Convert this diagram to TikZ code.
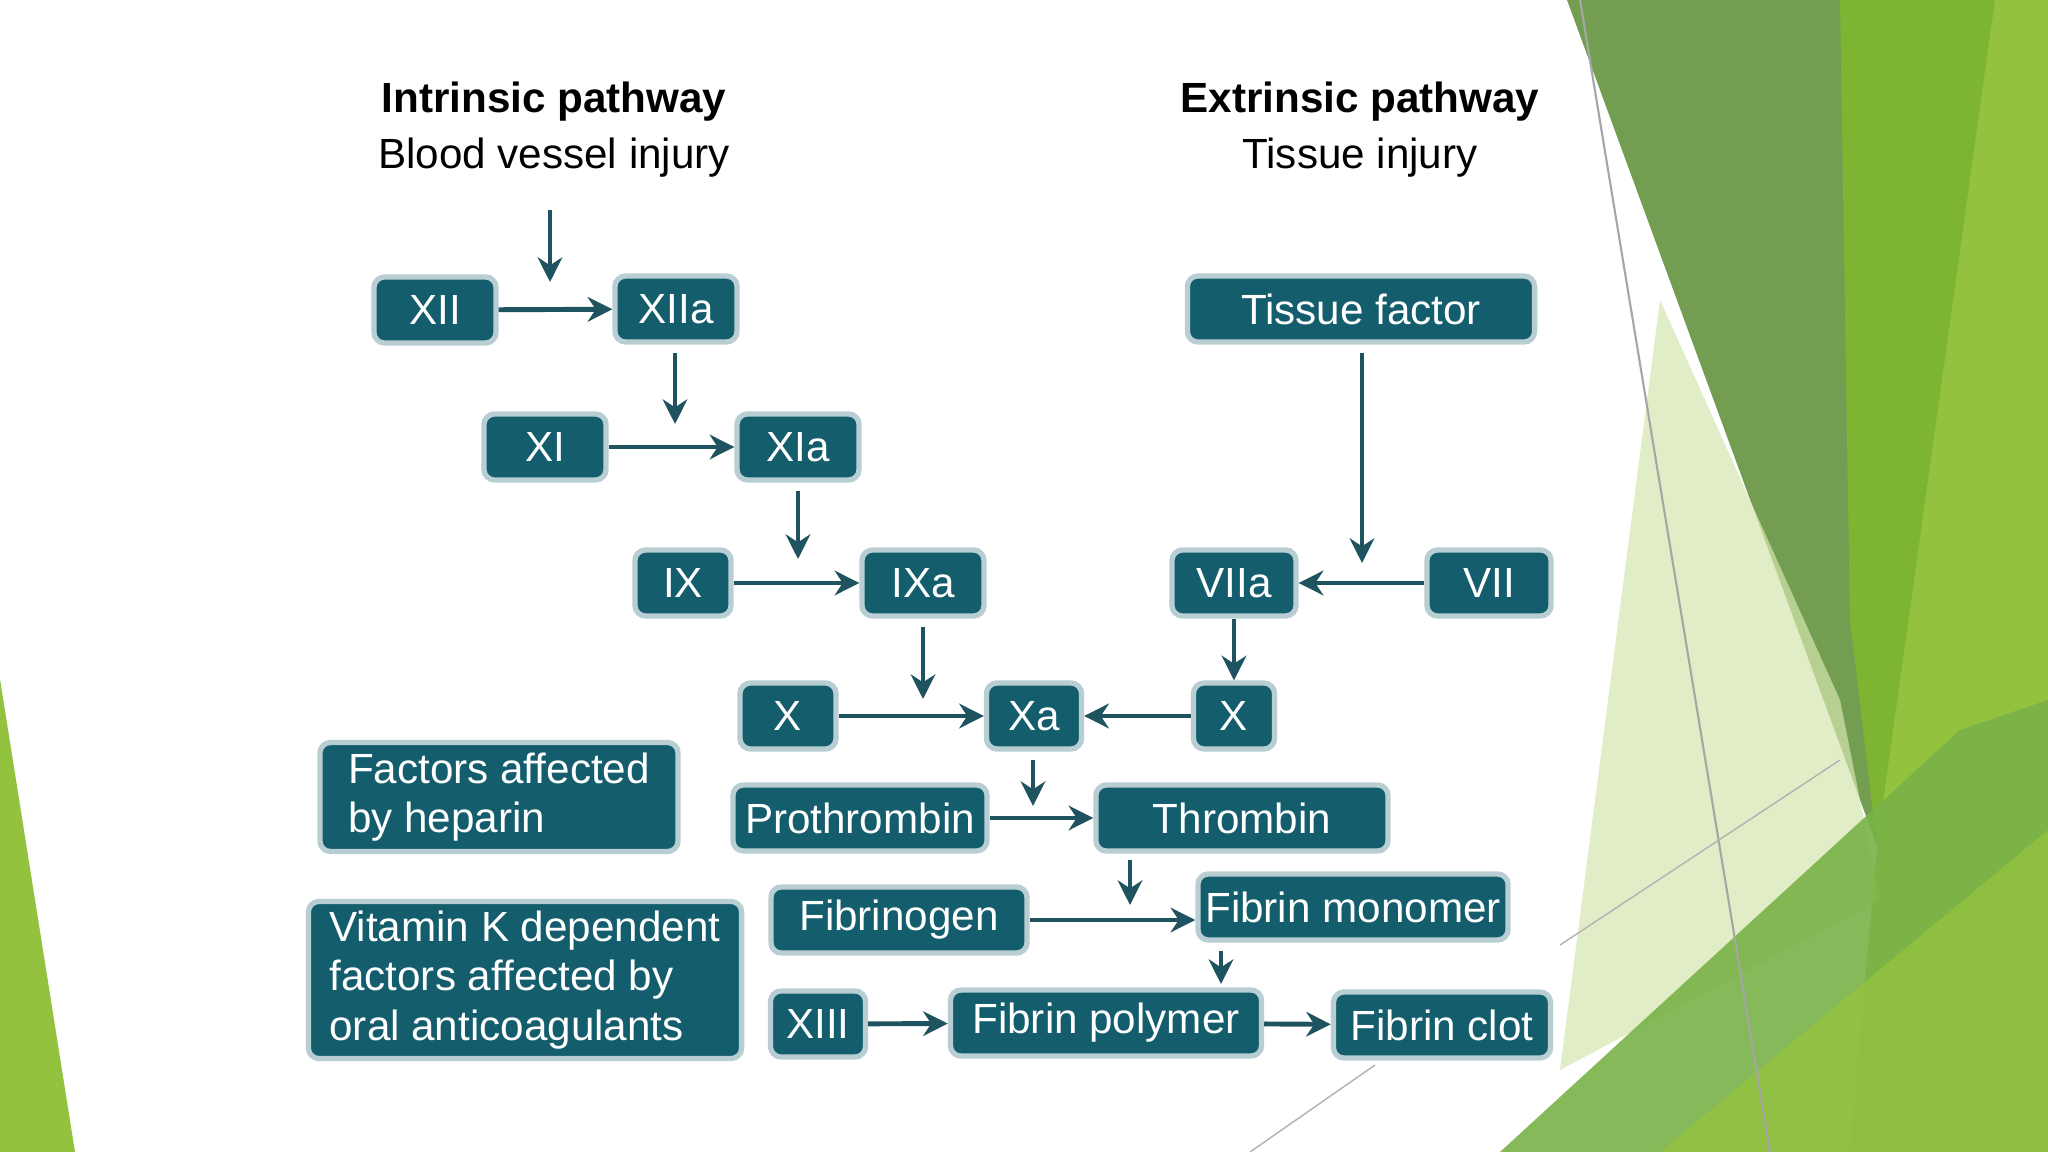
\documentclass[tikz,border=0pt]{standalone}
\usepackage{fontspec}
\setmainfont{Liberation Sans}
\usetikzlibrary{arrows.meta}
\definecolor{boxc}{HTML}{135D6C}
\definecolor{arr}{HTML}{1F5360}
\definecolor{gA}{HTML}{739E52}
\definecolor{gB}{HTML}{7DB533}
\definecolor{gC}{HTML}{93C23F}
\definecolor{gD}{HTML}{79B247}
\definecolor{gP}{HTML}{D5E6AE}
\begin{document}
\begin{tikzpicture}[x=0.01cm,y=-0.01cm,
  fbox/.style={fill=boxc,rounded corners=3pt,text=white,font=\fontsize{12}{14}\selectfont,minimum height=0.66cm,inner sep=2pt,draw=boxc!30,line width=1.5pt},
  lbox/.style={fbox,align=left,anchor=center},
  ttl/.style={font=\fontsize{12}{14}\selectfont\bfseries},
  sub/.style={font=\fontsize{12}{14}\selectfont},
  con/.style={draw=arr,line width=1.4pt,-{Stealth[length=7pt,width=7pt]}}]
\useasboundingbox (0,0) rectangle (2048,1152);
\fill[white] (0,0) rectangle (2048,1152);
% decorations
\fill[gC] (0,679) -- (75,1152) -- (0,1152) -- cycle;
\fill[gA] (1567,0) -- (1854,0) -- (1877,846) -- cycle;
\fill[gB] (1840,0) -- (2000,0) -- (1877,846) -- (1850,620) -- cycle;
\fill[gC] (1995,0) -- (2048,0) -- (2048,1152) -- (1850,1152) -- (1877,846) -- cycle;
\fill[gP,opacity=0.7] (1660,300) -- (1840,700) -- (1880,900) -- (1560,1070) -- cycle;
\fill[gD,opacity=0.9] (1500,1152) -- (1960,730) -- (2048,700) -- (2048,1152) -- cycle;
\fill[gC,opacity=0.8] (1660,1152) -- (2048,830) -- (2048,1152) -- cycle;
\draw[gray!70,line width=0.6pt] (1580,0) -- (1770,1152);
\draw[gray!60,line width=0.4pt] (1560,945) -- (1840,760);
\draw[gray!60,line width=0.4pt] (1250,1152) -- (1375,1065);
% titles
\node[ttl] (ti) at (554,102) {Intrinsic pathway};
\node[sub] (bi) at (554,158) {Blood vessel injury};
\node[ttl] (te) at (1360,102) {Extrinsic pathway};
\node[sub] (be) at (1360,158) {Tissue injury};
% boxes
\node[fbox,minimum width=1.22cm] (XII) at (435,310) {XII};
\node[fbox,minimum width=1.22cm] (XIIa) at (676,309) {XIIa};
\node[fbox,minimum width=1.22cm] (XI) at (545,447) {XI};
\node[fbox,minimum width=1.22cm] (XIa) at (798,447) {XIa};
\node[fbox,minimum width=0.96cm] (IX) at (683,583) {IX};
\node[fbox,minimum width=1.22cm] (IXa) at (923,583) {IXa};
\node[fbox,minimum width=1.24cm] (VIIa) at (1234,583) {VIIa};
\node[fbox,minimum width=1.24cm] (VII) at (1489,583) {VII};
\node[fbox,minimum width=3.47cm] (TF) at (1361,309) {Tissue factor};
\node[fbox,minimum width=0.96cm] (XL) at (788,716) {X};
\node[fbox,minimum width=0.95cm] (Xa) at (1034,716) {Xa};
\node[fbox,minimum width=0.81cm] (XR) at (1234,716) {X};
\node[lbox,minimum width=3.56cm,minimum height=1.09cm,inner xsep=8pt] (hep) at (499,797) {Factors affected\\by heparin};
\node[fbox,minimum width=2.54cm] (PT) at (860,818) {Prothrombin};
\node[fbox,minimum width=2.92cm] (TH) at (1242,818) {Thrombin};
\node[fbox,minimum width=2.56cm] (FG) at (899,920) {Fibrinogen};
\node[fbox,minimum width=3.10cm] (FM) at (1353,907) {Fibrin monomer};
\node[lbox,minimum width=4.09cm,minimum height=1.57cm,inner xsep=6pt] (vk) at (525,980) {Vitamin K dependent\\factors affected by\\oral anticoagulants};
\node[fbox,minimum width=0.95cm] (XIII) at (818,1024) {XIII};
\node[fbox,minimum width=3.11cm] (FP) at (1106,1023) {Fibrin polymer};
\node[fbox,minimum width=2.17cm] (FC) at (1442,1025) {Fibrin clot};
% coordinates for free ends
\coordinate (c1) at (550,282);
\coordinate (c2) at (675,424);
\coordinate (c3) at (798,559);
\coordinate (c4) at (923,699);
\coordinate (c5) at (1362,563);
\coordinate (c6) at (1033,806);
\coordinate (c7) at (1130,905);
\coordinate (c8) at (1221,984);
% connectors
\draw[con] (bi.south -| c1) ++(0,20) -- (c1);
\draw[con] (XII) -- (XIIa);
\draw[con] (XIIa.south -| c2) ++(0,8) -- (c2);
\draw[con] (XI) -- (XIa);
\draw[con] (XIa.south) ++(0,8) -- (c3);
\draw[con] (IX) -- (IXa);
\draw[con] (IXa.south) ++(0,8) -- (c4);
\draw[con] (TF.south -| c5) ++(0,8) -- (c5);
\draw[con] (VII) -- (VIIa);
\draw[con] (VIIa) -- (XR);
\draw[con] (XL) -- (Xa);
\draw[con] (XR) -- (Xa);
\draw[con] (Xa.south -| c6) ++(0,8) -- (c6);
\draw[con] (PT) -- (TH);
\draw[con] (TH.south -| c7) ++(0,6) -- (c7);
\draw[con] (FG.east) ++(0,0) -- (FM.west |- FG.east);
\draw[con] (FM.south -| c8) ++(0,8) -- (c8);
\draw[con] (XIII) -- (FP);
\draw[con] (FP) -- (FC);
\end{tikzpicture}
\end{document}
